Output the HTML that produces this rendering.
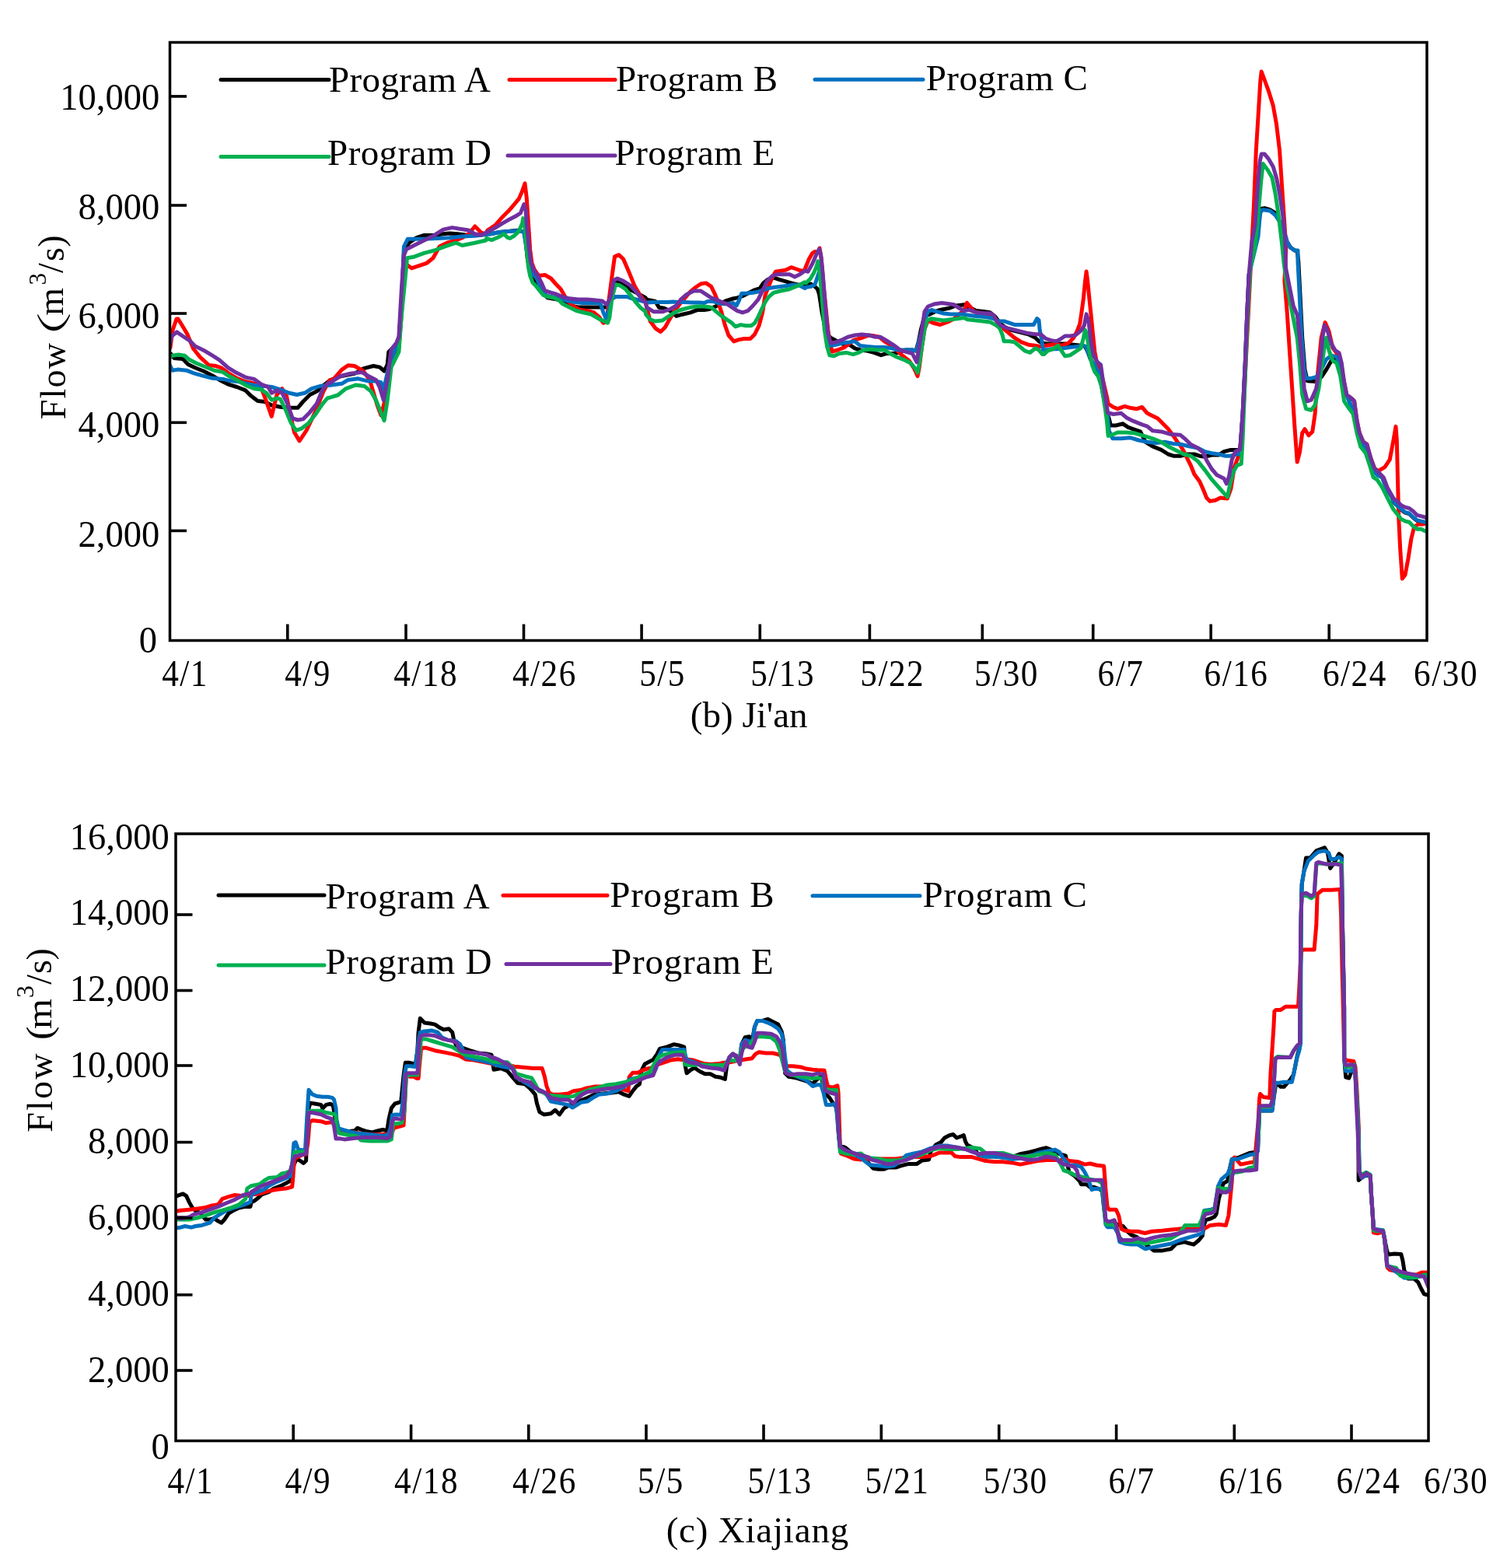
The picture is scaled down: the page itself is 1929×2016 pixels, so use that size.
<!DOCTYPE html><html><head><meta charset="utf-8"><style>html,body{margin:0;padding:0;background:#fff}svg{display:block}</style></head><body>
<svg width="1929" height="2016" viewBox="0 0 1929 2016" font-family="'Liberation Serif','Times New Roman',serif" fill="#000">
<rect width="1929" height="2016" fill="#fff"/>
<clipPath id="c1"><rect x="218.5" y="54.5" width="1616.5" height="769.0"/></clipPath>
<g clip-path="url(#c1)" fill="none" stroke-width="5" stroke-linejoin="round" stroke-linecap="round">
<polyline stroke="#000000" points="217.2,462.8 219.5,454.9 224.0,460.5 235.1,461.6 241.9,468.4 250.8,472.8 262.0,477.3 273.2,482.9 282.2,488.5 293.4,494.1 304.6,497.5 315.7,501.9 322.5,508.7 331.4,515.4 340.4,516.5 349.3,521.0 360.5,523.2 371.7,524.3 382.9,524.3 389.6,516.5 398.6,507.5 407.5,503.1 416.5,495.2 425.0,488.5 439.5,483.5 455.8,480.3 467.2,473.8 480.3,470.5 488.4,472.1 494.1,477.0 498.2,468.9 499.8,452.5 506.4,446.0 512.9,439.5 516.2,390.5 519.4,325.3 526.0,312.2 535.7,305.7 545.5,302.4 558.6,302.4 570.0,300.8 578.2,300.0 588.0,300.8 602.6,302.4 625.0,300.8 631.2,300.8 642.4,298.5 653.7,297.4 664.9,296.3 671.6,297.4 673.8,298.5 676.1,309.7 678.3,332.2 681.7,349.0 687.3,360.2 691.8,365.8 698.5,377.1 704.1,382.7 715.4,384.9 723.2,387.1 732.2,392.8 743.4,395.0 754.6,395.0 765.8,395.0 777.1,395.0 781.5,395.0 786.0,379.3 790.5,361.3 795.0,362.5 801.7,365.8 810.7,372.6 819.7,377.1 830.0,382.7 831.7,385.1 842.9,387.4 847.4,395.2 854.1,396.3 861.9,399.7 869.8,406.4 877.6,404.2 887.7,401.9 896.6,398.6 905.6,398.6 912.3,397.5 920.1,394.1 928.0,389.6 934.7,386.3 942.5,384.0 948.1,382.9 954.9,380.7 961.6,377.3 970.5,372.8 977.2,370.6 981.7,363.9 987.3,359.4 995.1,357.2 1001.9,359.4 1009.7,361.6 1017.5,363.9 1026.5,366.1 1035.0,367.2 1036.7,366.0 1042.3,364.9 1047.9,368.3 1051.3,371.6 1053.5,378.4 1056.9,400.7 1060.2,417.5 1063.6,428.7 1068.1,434.3 1074.8,437.7 1083.7,442.2 1092.7,443.3 1099.4,447.8 1106.1,450.0 1115.1,451.1 1124.0,453.4 1133.0,456.7 1139.7,454.5 1148.7,454.5 1155.4,453.4 1164.3,450.0 1173.3,450.0 1177.8,451.1 1181.1,439.9 1184.5,423.1 1189.0,406.3 1195.7,404.1 1202.4,400.7 1209.1,398.5 1220.3,396.3 1229.3,392.9 1240.0,391.8 1241.7,395.0 1248.5,396.1 1255.2,399.5 1264.2,400.6 1273.1,401.7 1279.9,407.3 1286.6,416.3 1295.6,423.0 1304.6,425.3 1313.5,427.5 1322.5,429.7 1331.5,434.2 1336.0,438.7 1340.4,441.0 1347.2,442.1 1358.4,442.1 1369.6,442.1 1380.8,443.2 1389.8,444.3 1395.4,445.4 1398.8,452.2 1402.1,461.2 1406.6,469.0 1410.0,474.6 1414.5,485.8 1419.0,508.3 1423.5,530.7 1426.2,538.1 1428.4,547.0 1435.1,547.0 1444.1,544.8 1450.8,549.3 1459.8,552.6 1466.5,554.9 1473.2,568.3 1482.2,573.9 1493.4,578.4 1502.3,584.0 1509.0,586.2 1518.0,586.2 1526.9,584.0 1535.9,584.0 1542.6,586.2 1549.3,587.3 1558.3,585.1 1567.2,585.1 1574.0,580.6 1582.9,578.4 1589.6,578.4 1594.1,578.4 1594.8,577.8 1598.1,532.1 1601.3,466.8 1603.8,401.6 1606.2,352.6 1616.7,304.1 1620.1,276.6 1622.2,268.3 1626.3,267.6 1633.2,269.7 1640.1,273.8 1645.6,284.8 1651.1,297.2 1655.2,311.0 1659.4,317.9 1664.9,322.0 1668.3,322.7 1669.8,336.3 1672.3,385.3 1674.7,434.2 1678.0,475.0 1681.3,489.7 1691.1,490.5 1699.2,484.8 1705.7,475.0 1712.3,463.6 1718.8,460.3 1725.3,475.0 1728.6,499.5 1735.1,515.8 1740.0,528.8 1744.9,548.4 1749.8,564.7 1754.7,574.5 1759.6,584.3 1764.5,600.6 1771.0,610.4 1777.5,613.7 1784.1,630.0 1790.6,639.8 1791.8,645.2 1796.9,650.3 1802.0,655.4 1807.1,659.2 1812.2,660.5 1817.3,665.6 1822.4,669.4 1827.5,670.7 1832.6,672.0 1839.0,674.5"/>
<polyline stroke="#FF0000" points="219.0,447.0 221.9,425.0 227.0,410.0 229.0,410.1 234.0,418.0 240.7,429.2 248.6,448.2 257.5,459.4 268.7,469.5 277.7,470.6 284.4,472.8 293.4,479.6 304.6,486.3 315.7,490.7 326.9,493.0 335.9,498.6 341.5,513.1 349.3,535.5 356.0,507.5 362.8,499.7 368.4,508.7 374.0,535.5 378.4,555.7 385.1,566.9 394.1,553.4 405.3,529.9 416.5,501.9 424.3,488.5 428.1,488.4 439.5,475.4 447.6,469.7 455.8,470.5 467.2,477.0 475.4,488.4 480.3,504.8 485.2,521.1 490.1,534.1 495.0,514.5 499.8,472.1 506.4,455.8 512.9,447.6 516.2,406.9 519.4,357.9 522.7,340.0 529.2,344.8 539.0,341.6 548.8,338.3 557.0,331.8 565.1,317.1 574.9,312.2 586.3,309.0 594.5,305.7 602.6,300.8 610.8,291.0 619.0,299.2 625.0,300.8 626.7,296.3 636.8,289.6 644.7,280.6 653.7,271.6 660.4,263.8 667.1,255.9 671.6,245.8 675.0,235.7 677.2,253.7 679.5,287.3 681.7,321.0 683.9,337.8 687.3,346.8 692.9,354.6 700.8,353.5 708.6,358.0 715.4,365.8 721.0,371.4 725.4,379.3 729.9,387.1 737.8,393.9 745.6,398.4 754.6,399.5 763.6,401.7 770.3,407.3 775.9,415.2 780.4,412.9 782.7,388.3 787.1,354.6 790.5,329.9 796.1,327.7 801.7,333.3 808.5,349.0 816.3,368.1 823.0,379.3 830.0,388.3 836.2,413.1 842.9,422.1 849.6,426.6 855.2,421.0 860.8,410.9 867.5,399.7 874.3,390.7 881.0,382.9 887.7,375.1 894.4,369.5 901.1,365.0 907.8,363.9 914.6,368.4 919.0,377.3 923.5,388.5 928.0,401.9 932.5,418.7 936.9,431.0 943.7,438.9 950.4,436.6 957.1,435.5 964.9,435.5 970.5,429.9 976.1,418.7 980.6,401.9 984.0,379.6 988.4,368.4 992.9,357.2 997.4,349.3 1004.1,348.2 1010.8,347.1 1017.5,343.7 1024.3,346.0 1029.9,348.2 1035.0,347.1 1035.6,344.8 1040.1,333.6 1044.6,325.7 1047.9,323.5 1052.4,324.6 1054.1,319.0 1056.3,333.6 1059.1,367.2 1062.5,400.7 1064.7,423.1 1066.9,439.9 1070.3,452.2 1077.0,450.0 1086.0,446.6 1097.2,437.7 1108.4,434.3 1117.3,431.0 1125.1,432.1 1130.7,433.2 1137.5,438.8 1146.4,444.4 1153.1,450.0 1159.9,456.7 1168.8,463.4 1175.5,473.5 1180.0,483.6 1182.2,472.4 1185.6,445.5 1189.0,423.1 1193.4,411.9 1200.1,415.3 1209.1,417.5 1218.1,414.2 1227.0,409.7 1234.9,403.0 1240.0,398.5 1243.4,389.4 1247.3,393.8 1252.9,400.6 1261.9,402.8 1270.9,405.1 1277.6,407.3 1284.4,416.3 1291.1,423.0 1297.8,428.6 1304.6,434.2 1313.5,439.8 1322.5,443.2 1330.4,444.3 1338.2,445.4 1344.9,444.3 1351.7,443.2 1358.4,442.1 1365.1,444.3 1374.1,441.0 1380.8,434.2 1385.3,425.3 1388.7,416.3 1390.9,401.7 1393.2,384.9 1395.4,362.4 1397.1,349.0 1398.8,362.4 1401.0,384.9 1403.3,407.3 1405.5,429.7 1407.8,452.2 1410.0,463.4 1414.5,472.4 1419.0,491.4 1423.5,510.5 1425.1,519.0 1431.8,523.5 1437.4,525.7 1446.3,522.4 1454.2,524.6 1462.0,525.7 1468.7,523.5 1475.4,531.3 1482.2,534.7 1488.9,538.1 1495.6,544.8 1502.3,551.5 1509.0,560.4 1513.5,567.2 1518.0,572.8 1522.5,580.6 1526.9,589.6 1531.4,598.5 1535.9,609.7 1542.6,618.7 1547.1,628.7 1551.6,639.9 1556.0,644.4 1562.8,643.3 1569.5,639.9 1578.4,641.0 1582.9,628.7 1587.4,600.7 1591.9,588.4 1593.2,584.3 1596.4,564.7 1599.7,515.8 1602.9,450.5 1612.5,262.8 1615.3,193.9 1618.7,138.9 1620.8,104.4 1622.2,92.0 1626.3,103.0 1631.8,118.2 1637.3,136.1 1641.5,159.5 1645.6,193.9 1648.3,235.2 1651.1,276.6 1653.9,317.9 1651.9,360.8 1655.2,401.6 1658.4,450.5 1661.7,499.5 1664.9,548.4 1668.2,594.1 1671.5,581.1 1674.7,556.6 1678.0,551.7 1682.9,559.8 1687.8,554.9 1691.1,532.1 1694.3,483.2 1699.2,434.2 1704.1,414.6 1709.0,426.1 1713.9,447.3 1718.8,453.8 1723.7,466.8 1728.6,491.3 1731.8,507.6 1738.4,512.5 1741.6,515.8 1744.9,540.3 1748.2,556.6 1753.1,568.0 1757.9,571.3 1762.8,589.2 1767.7,602.3 1772.6,605.5 1780.8,600.6 1787.3,590.8 1792.2,564.7 1795.0,548.4 1796.3,565.5 1797.5,616.5 1798.8,667.5 1800.7,705.8 1803.3,744.0 1807.1,738.9 1810.9,718.5 1814.8,693.0 1818.6,677.7 1823.7,673.9 1830.1,673.9 1835.2,672.6 1839.0,672.6"/>
<polyline stroke="#0070C0" points="217.2,467.2 221.7,476.2 228.4,475.1 239.6,476.2 248.6,479.6 259.8,482.9 273.2,486.3 286.6,487.4 295.6,489.6 306.8,490.7 315.7,493.0 326.9,495.2 338.1,496.3 349.3,497.5 360.5,500.8 371.7,505.3 381.8,507.5 391.9,505.3 400.8,499.7 412.0,496.3 425.0,495.2 426.4,495.0 439.5,493.3 447.6,488.4 460.7,486.8 473.7,490.1 483.5,490.1 490.1,491.7 493.3,501.5 499.8,472.1 506.4,454.2 512.9,439.5 516.2,390.5 519.4,317.1 524.3,307.3 532.5,307.3 545.5,307.3 561.9,306.5 578.2,305.7 594.5,304.1 610.8,303.2 625.0,301.6 631.2,300.8 642.4,298.5 653.7,297.4 664.9,296.8 671.6,297.4 673.8,298.5 677.2,321.0 680.6,343.4 685.1,352.4 689.6,356.9 694.0,365.8 698.5,377.1 704.1,380.4 715.4,382.7 726.6,386.0 737.8,388.3 749.0,389.4 760.2,389.4 769.2,389.4 772.6,391.6 775.9,401.7 779.3,409.6 782.7,399.5 786.0,384.9 791.6,381.5 799.5,381.5 806.2,381.5 812.9,383.8 821.9,386.0 830.0,388.3 831.7,389.1 840.7,388.5 849.6,388.5 858.6,388.5 865.3,387.9 872.0,388.5 881.0,388.5 889.9,389.1 898.9,389.1 905.6,389.6 910.1,387.4 916.8,387.4 923.5,389.6 930.2,390.7 936.9,390.7 942.5,389.6 947.0,393.0 950.4,386.3 953.7,377.3 959.3,377.3 968.3,376.2 975.0,375.1 981.7,372.8 988.4,370.6 995.1,369.5 1004.1,368.4 1013.1,367.2 1022.0,366.1 1028.7,367.2 1035.0,370.6 1036.7,369.4 1043.4,368.3 1047.9,366.0 1051.3,356.0 1053.5,349.3 1055.7,356.0 1058.0,378.4 1060.2,406.3 1063.6,428.7 1066.9,444.4 1074.8,443.3 1083.7,441.0 1092.7,439.9 1099.4,438.8 1106.1,444.4 1115.1,445.5 1126.3,446.6 1137.5,446.6 1146.4,447.8 1155.4,450.0 1164.3,450.0 1173.3,450.0 1177.8,451.1 1180.0,445.5 1184.5,428.7 1189.0,411.9 1193.4,400.7 1197.9,398.5 1204.6,400.7 1213.6,403.0 1222.5,404.1 1231.5,404.1 1240.0,404.1 1244.0,405.1 1252.9,406.2 1264.2,407.3 1273.1,408.4 1279.9,410.7 1284.4,412.9 1291.1,412.9 1297.8,415.2 1304.6,417.4 1313.5,417.4 1322.5,417.4 1329.2,417.4 1333.7,409.6 1336.0,411.8 1337.1,424.1 1339.3,435.4 1341.6,449.9 1343.8,449.9 1351.7,448.8 1358.4,448.8 1367.4,447.7 1376.3,446.6 1385.3,445.4 1392.1,444.3 1396.5,445.4 1398.8,452.2 1403.3,463.4 1407.8,469.0 1412.2,478.0 1416.7,497.1 1421.2,519.5 1424.6,536.3 1426.2,553.7 1430.7,563.8 1441.9,563.8 1453.1,562.7 1464.3,566.0 1475.4,568.3 1486.6,569.4 1497.8,568.3 1509.0,570.5 1520.2,571.6 1529.2,573.9 1540.4,576.1 1549.3,580.6 1558.3,582.8 1567.2,584.0 1576.2,586.2 1582.9,586.2 1589.6,584.0 1594.1,584.0 1594.8,581.1 1598.1,532.1 1601.3,466.8 1603.8,401.6 1606.2,352.6 1618.0,304.1 1620.8,271.0 1624.9,269.7 1633.2,271.0 1640.1,276.6 1645.6,284.8 1651.1,297.2 1655.2,311.0 1659.4,317.9 1664.9,322.0 1669.0,322.0 1669.0,336.3 1671.5,385.3 1673.9,434.2 1677.2,475.0 1679.6,486.4 1686.2,486.4 1692.7,484.8 1699.2,475.0 1705.7,461.9 1712.3,457.1 1718.8,458.7 1725.3,475.0 1728.6,499.5 1735.1,515.8 1740.0,528.8 1744.9,548.4 1749.8,564.7 1754.7,574.5 1759.6,584.3 1764.5,600.6 1771.0,610.4 1777.5,613.7 1784.1,630.0 1790.6,639.8 1791.8,644.6 1796.9,649.7 1802.0,654.8 1807.1,658.6 1812.2,659.9 1817.3,665.0 1822.4,668.8 1827.5,670.1 1832.6,671.3 1839.0,673.9"/>
<polyline stroke="#00B050" points="217.2,459.4 221.7,457.2 229.6,456.0 237.4,457.2 244.1,462.8 253.1,467.2 264.3,471.7 275.4,476.2 286.6,478.4 293.4,482.9 304.6,488.5 315.7,495.2 326.9,499.7 335.9,500.8 342.6,505.3 349.3,514.3 356.0,512.0 360.5,513.1 367.2,526.6 374.0,543.4 380.7,553.4 387.4,551.2 396.3,544.5 405.3,533.3 414.3,519.9 421.0,512.0 425.0,510.9 434.6,508.0 444.4,499.9 457.4,495.0 468.8,496.6 477.0,503.1 483.5,514.5 490.1,530.9 494.1,540.7 498.2,514.5 503.1,472.1 509.6,459.1 512.9,452.5 516.2,406.9 521.1,357.9 523.5,331.8 532.5,330.2 545.5,325.3 558.6,322.0 571.6,317.1 586.3,312.2 594.5,315.5 610.8,312.2 625.0,309.0 625.6,306.4 632.3,308.6 640.2,305.3 648.0,300.8 652.5,305.3 655.9,306.4 661.5,303.0 667.1,297.4 671.6,287.3 672.7,280.6 675.0,292.9 677.2,321.0 679.5,343.4 681.7,354.6 685.1,363.6 689.6,368.1 694.0,373.7 698.5,379.3 704.1,381.5 712.0,382.7 718.7,386.0 723.2,390.5 732.2,395.0 741.2,399.5 750.1,401.7 760.2,404.0 765.8,407.3 771.4,410.7 777.1,412.9 781.5,415.2 783.8,408.5 787.1,382.7 791.6,365.8 797.2,367.0 804.0,371.4 810.7,379.3 817.4,388.3 824.2,396.1 830.0,400.6 830.6,404.2 836.2,410.9 842.9,413.1 851.9,412.0 858.6,407.5 865.3,403.1 872.0,399.7 878.7,397.5 887.7,395.2 896.6,394.1 905.6,394.1 914.6,395.2 921.3,400.8 928.0,406.4 934.7,410.9 941.4,415.4 945.9,419.9 952.6,417.6 959.3,418.7 966.0,418.7 970.5,415.4 975.0,407.5 979.5,397.5 984.0,388.5 988.4,381.8 995.1,376.2 1004.1,374.0 1015.3,371.7 1026.5,367.2 1035.0,362.8 1036.7,363.8 1042.3,358.2 1046.8,350.4 1050.1,342.5 1051.8,335.8 1053.5,344.8 1055.7,367.2 1058.0,395.1 1060.2,423.1 1063.6,445.5 1066.9,456.7 1072.5,457.8 1079.3,454.5 1088.2,453.4 1097.2,455.6 1103.9,453.4 1110.6,450.0 1119.6,448.9 1128.5,450.0 1137.5,450.0 1146.4,455.6 1153.1,459.0 1162.1,462.3 1171.0,466.8 1177.8,474.6 1180.0,479.1 1182.2,467.9 1185.6,445.5 1189.0,423.1 1192.3,411.9 1197.9,409.7 1204.6,410.8 1213.6,411.9 1222.5,410.8 1231.5,409.7 1240.0,408.6 1244.0,410.7 1252.9,411.8 1264.2,412.9 1273.1,414.0 1279.9,417.4 1285.5,421.9 1288.8,429.7 1291.1,438.7 1297.8,438.7 1304.6,439.8 1311.3,445.4 1318.0,451.1 1324.7,453.3 1331.5,447.7 1336.0,449.9 1340.4,455.5 1342.7,455.5 1347.2,451.1 1353.9,448.8 1360.6,444.3 1365.1,451.1 1369.6,457.8 1376.3,456.7 1383.1,452.2 1389.8,447.7 1393.2,435.4 1395.4,424.1 1397.7,429.7 1401.0,452.2 1404.4,469.0 1407.8,478.0 1412.2,483.6 1416.7,497.1 1421.2,525.1 1423.5,541.9 1425.1,560.4 1429.6,559.3 1437.4,556.0 1448.6,556.0 1459.8,557.1 1471.0,560.4 1482.2,563.8 1493.4,568.3 1502.3,573.9 1511.3,578.4 1522.5,584.0 1531.4,586.2 1540.4,592.9 1549.3,604.1 1558.3,616.4 1567.2,626.5 1576.2,636.6 1578.4,638.8 1581.8,623.1 1586.3,606.3 1590.7,598.5 1596.3,596.3 1598.1,564.7 1601.3,483.2 1604.6,401.6 1607.8,344.5 1613.9,317.9 1618.0,276.6 1621.5,235.2 1624.2,210.5 1630.4,218.7 1636.0,228.4 1640.1,249.0 1644.2,276.6 1648.3,311.0 1651.1,338.5 1655.2,368.9 1660.1,393.4 1664.9,417.9 1668.2,434.2 1671.5,466.8 1674.7,507.6 1679.6,525.6 1686.2,527.2 1691.1,520.7 1695.9,499.5 1699.2,475.0 1702.5,450.5 1705.7,434.2 1709.0,450.5 1713.9,463.6 1718.8,466.8 1723.7,483.2 1728.6,515.8 1735.1,525.6 1740.0,532.1 1744.9,556.6 1749.8,574.5 1756.3,582.7 1761.2,597.4 1766.1,613.7 1771.0,616.9 1777.5,626.7 1784.1,639.8 1791.8,654.8 1796.9,661.1 1802.0,667.5 1807.1,670.1 1812.2,671.3 1817.3,676.4 1822.4,680.3 1827.5,680.3 1832.6,682.8 1839.0,685.4"/>
<polyline stroke="#7030A0" points="217.2,447.1 220.6,432.5 227.3,426.9 237.4,433.7 244.1,438.1 250.8,444.9 262.0,450.4 273.2,457.2 282.2,462.8 293.4,472.8 304.6,479.6 315.7,485.1 326.9,487.4 335.9,494.1 344.9,497.5 349.3,505.3 356.0,501.9 362.8,505.3 369.5,518.7 376.2,537.8 382.9,540.0 389.6,538.9 398.6,529.9 407.5,518.7 414.3,501.9 419.9,494.1 425.0,491.9 437.8,483.5 450.9,480.3 465.6,478.6 473.7,483.5 483.5,488.4 488.4,498.2 493.3,514.5 498.2,488.4 503.1,449.3 509.6,441.1 512.9,433.0 516.2,374.2 519.4,328.5 522.7,320.4 532.5,315.5 545.5,309.0 558.6,302.4 570.0,295.1 581.4,292.6 591.2,294.3 602.6,295.9 610.8,300.8 619.0,302.4 625.0,299.2 626.7,298.5 636.8,292.9 645.8,287.3 653.7,282.8 662.6,278.3 669.4,273.8 673.8,262.6 676.1,270.5 678.3,298.5 680.6,321.0 682.8,337.8 687.3,349.0 691.8,354.6 696.3,363.6 700.8,373.7 707.5,375.9 715.4,378.2 723.2,381.5 732.2,383.8 743.4,384.9 754.6,384.9 765.8,386.0 774.8,387.1 780.4,391.6 784.9,382.7 789.4,360.2 793.9,358.0 801.7,361.3 810.7,367.0 819.7,377.1 826.4,386.0 830.0,388.3 831.7,395.2 840.7,400.8 851.9,400.8 861.9,397.5 869.8,393.0 875.4,385.1 883.2,378.4 892.2,374.0 901.1,374.0 907.8,378.4 914.6,382.9 921.3,385.1 928.0,388.5 934.7,390.7 941.4,395.2 948.1,399.7 954.9,401.9 961.6,399.7 968.3,393.0 975.0,385.1 981.7,371.7 986.2,361.6 992.9,354.9 999.6,352.7 1008.6,352.7 1015.3,352.7 1022.0,356.0 1028.7,352.7 1035.0,348.2 1039.0,349.3 1044.6,339.2 1049.0,329.1 1053.5,320.1 1055.7,328.0 1058.0,350.4 1060.2,378.4 1062.5,406.3 1064.7,428.7 1068.1,441.0 1074.8,439.9 1083.7,436.6 1090.4,433.2 1099.4,431.0 1108.4,429.9 1117.3,431.0 1125.1,433.2 1131.9,433.2 1139.7,437.7 1148.7,443.3 1157.6,450.0 1164.3,452.2 1173.3,454.5 1178.9,465.7 1182.2,445.5 1185.6,423.1 1189.0,400.7 1193.4,394.0 1202.4,390.7 1211.3,389.6 1220.3,390.7 1227.0,391.8 1233.7,396.3 1240.0,399.6 1246.2,398.3 1255.2,401.7 1264.2,402.8 1273.1,402.8 1277.6,405.1 1282.1,412.9 1286.6,418.5 1295.6,421.9 1304.6,424.1 1313.5,426.4 1322.5,428.6 1331.5,429.7 1338.2,429.7 1344.9,435.4 1351.7,437.6 1358.4,438.7 1362.9,436.5 1369.6,432.0 1376.3,432.0 1383.1,430.9 1389.8,425.3 1394.3,418.5 1397.1,403.9 1399.9,412.9 1403.3,441.0 1406.6,457.8 1411.1,465.6 1415.6,469.0 1417.9,485.8 1421.2,508.3 1424.6,530.7 1431.8,532.5 1441.9,531.3 1448.6,536.9 1457.5,541.4 1468.7,545.9 1475.4,548.1 1482.2,553.7 1493.4,554.9 1504.6,558.2 1518.0,559.3 1524.7,564.9 1531.4,571.6 1540.4,576.1 1547.1,581.7 1551.6,591.8 1558.3,603.0 1565.0,610.8 1574.0,615.3 1577.3,622.0 1580.7,611.9 1584.0,591.8 1588.5,580.6 1594.1,578.4 1594.8,577.8 1598.1,532.1 1601.3,466.8 1603.8,401.6 1606.2,352.6 1609.8,311.0 1613.9,290.3 1616.7,249.0 1620.1,207.7 1622.2,198.1 1626.3,198.1 1631.8,204.9 1637.3,214.6 1641.5,228.4 1645.6,249.0 1649.7,276.6 1652.5,304.1 1653.5,344.5 1658.4,368.9 1663.3,393.4 1668.2,404.8 1671.5,434.2 1674.7,466.8 1677.2,499.5 1681.3,515.8 1686.2,514.2 1692.7,499.5 1697.6,466.8 1700.8,434.2 1703.3,417.9 1707.4,426.1 1712.3,442.4 1717.2,450.5 1722.1,453.8 1725.3,466.8 1728.6,491.3 1731.8,507.6 1738.4,512.5 1741.6,515.8 1744.9,540.3 1748.2,556.6 1753.1,568.0 1757.9,571.3 1762.8,589.2 1767.7,602.3 1774.3,608.8 1779.2,613.7 1784.1,626.7 1790.6,638.2 1791.8,640.7 1796.9,644.6 1802.0,649.7 1807.1,652.2 1812.2,653.5 1817.3,657.3 1822.4,662.4 1827.5,663.7 1832.6,665.0 1839.0,668.8"/>
</g>
<rect x="218.5" y="54.5" width="1616.5" height="769.0" fill="none" stroke="#000" stroke-width="3.5"/>
<line x1="218.5" y1="123.9" x2="240.0" y2="123.9" stroke="#000" stroke-width="3.6"/>
<text transform="translate(205.2,141.3) scale(0.94,1)" font-size="49.5" text-anchor="end">10,000</text>
<line x1="218.5" y1="264" x2="240.0" y2="264" stroke="#000" stroke-width="3.6"/>
<text transform="translate(205.2,282.0) scale(0.94,1)" font-size="49.5" text-anchor="end">8,000</text>
<line x1="218.5" y1="403" x2="240.0" y2="403" stroke="#000" stroke-width="3.6"/>
<text transform="translate(205.2,422.0) scale(0.94,1)" font-size="49.5" text-anchor="end">6,000</text>
<line x1="218.5" y1="543.3" x2="240.0" y2="543.3" stroke="#000" stroke-width="3.6"/>
<text transform="translate(205.2,561.5) scale(0.94,1)" font-size="49.5" text-anchor="end">4,000</text>
<line x1="218.5" y1="682.4" x2="240.0" y2="682.4" stroke="#000" stroke-width="3.6"/>
<text transform="translate(205.2,702.7) scale(0.94,1)" font-size="49.5" text-anchor="end">2,000</text>
<text transform="translate(202.0,838.5) scale(0.94,1)" font-size="49.5" text-anchor="end">0</text>
<text transform="translate(208.2,881.5) scale(0.9,1)" font-size="48" letter-spacing="1.7">4/1</text>
<line x1="369.8" y1="823.5" x2="369.8" y2="802.5" stroke="#000" stroke-width="3.6"/>
<text transform="translate(366.2,881.5) scale(0.9,1)" font-size="48" letter-spacing="1.7">4/9</text>
<line x1="522" y1="823.5" x2="522" y2="802.5" stroke="#000" stroke-width="3.6"/>
<text transform="translate(506.2,881.5) scale(0.9,1)" font-size="48" letter-spacing="1.7">4/18</text>
<line x1="673.5" y1="823.5" x2="673.5" y2="802.5" stroke="#000" stroke-width="3.6"/>
<text transform="translate(658.9,881.5) scale(0.9,1)" font-size="48" letter-spacing="1.7">4/26</text>
<line x1="825.1" y1="823.5" x2="825.1" y2="802.5" stroke="#000" stroke-width="3.6"/>
<text transform="translate(822.2,881.5) scale(0.9,1)" font-size="48" letter-spacing="1.7">5/5</text>
<line x1="977.3" y1="823.5" x2="977.3" y2="802.5" stroke="#000" stroke-width="3.6"/>
<text transform="translate(965.2,881.5) scale(0.9,1)" font-size="48" letter-spacing="1.7">5/13</text>
<line x1="1118.4" y1="823.5" x2="1118.4" y2="802.5" stroke="#000" stroke-width="3.6"/>
<text transform="translate(1106.3,881.5) scale(0.9,1)" font-size="48" letter-spacing="1.7">5/22</text>
<line x1="1263.3" y1="823.5" x2="1263.3" y2="802.5" stroke="#000" stroke-width="3.6"/>
<text transform="translate(1253.0,881.5) scale(0.9,1)" font-size="48" letter-spacing="1.7">5/30</text>
<line x1="1405.7" y1="823.5" x2="1405.7" y2="802.5" stroke="#000" stroke-width="3.6"/>
<text transform="translate(1411.6,881.5) scale(0.9,1)" font-size="48" letter-spacing="1.7">6/7</text>
<line x1="1557.2" y1="823.5" x2="1557.2" y2="802.5" stroke="#000" stroke-width="3.6"/>
<text transform="translate(1548.5,881.5) scale(0.9,1)" font-size="48" letter-spacing="1.7">6/16</text>
<line x1="1709.2" y1="823.5" x2="1709.2" y2="802.5" stroke="#000" stroke-width="3.6"/>
<text transform="translate(1700.9,881.5) scale(0.9,1)" font-size="48" letter-spacing="1.7">6/24</text>
<text transform="translate(1818.1,881.5) scale(0.9,1)" font-size="48" letter-spacing="1.7">6/30</text>
<g transform="translate(83.8,540) rotate(-90)">
<text transform="translate(0.67,0)" font-size="46" letter-spacing="1.2">Flow</text>
<text transform="translate(66.4,3.4) scale(1.65,1)" font-size="45" font-family="'Noto Serif CJK SC',serif">（</text>
<text transform="translate(134.2,-3)" font-size="46">m</text>
<text transform="translate(173.5,-25.2)" font-size="31">3</text>
<text transform="translate(189,-2.4)" font-size="46">/</text>
<text transform="translate(203.9,-2.2)" font-size="46">s</text>
<text transform="translate(222.3,-2.5)" font-size="46">)</text>
</g>
<text x="887.8345703125" y="935" font-size="47">(b) Ji'an</text>
<line x1="284" y1="102.4" x2="423" y2="102.4" stroke="#000000" stroke-width="5" stroke-linecap="round"/>
<text x="422.9" y="117.7" font-size="47" letter-spacing="0.4">Program A</text>
<line x1="655" y1="102.5" x2="791" y2="102.5" stroke="#FF0000" stroke-width="5" stroke-linecap="round"/>
<text x="792.0" y="117.3" font-size="47" letter-spacing="0.4">Program B</text>
<line x1="1048" y1="102.3" x2="1187" y2="102.3" stroke="#0070C0" stroke-width="5" stroke-linecap="round"/>
<text x="1190.8" y="115.9" font-size="47" letter-spacing="0.4">Program C</text>
<line x1="284" y1="201.4" x2="423" y2="201.4" stroke="#00B050" stroke-width="5" stroke-linecap="round"/>
<text x="421.1" y="212.3" font-size="47" letter-spacing="0.4">Program D</text>
<line x1="653" y1="199.9" x2="791" y2="199.9" stroke="#7030A0" stroke-width="5" stroke-linecap="round"/>
<text x="790.6" y="212.2" font-size="47" letter-spacing="0.4">Program E</text>
<clipPath id="c2"><rect x="226" y="1072" width="1611" height="780.5"/></clipPath>
<g clip-path="url(#c2)" fill="none" stroke-width="5" stroke-linejoin="round" stroke-linecap="round">
<polyline stroke="#000000" points="223.6,1539.7 228.9,1537.1 235.3,1534.9 239.6,1537.6 243.3,1545.6 247.1,1552.5 251.9,1557.3 257.2,1559.4 264.6,1568.0 270.0,1568.0 275.3,1566.4 280.6,1570.1 284.9,1572.2 288.6,1568.0 294.0,1560.0 299.3,1556.8 307.3,1553.0 315.3,1551.4 322.0,1551.4 323.0,1546.0 327.4,1543.8 333.1,1539.3 336.4,1535.9 345.4,1532.6 352.1,1528.1 361.1,1524.7 367.8,1521.3 373.4,1518.0 375.7,1509.0 377.9,1497.8 381.3,1489.9 385.8,1492.2 390.3,1495.5 393.6,1492.2 394.8,1458.5 397.0,1424.9 399.2,1418.1 406.0,1419.3 412.7,1420.4 414.9,1424.9 419.4,1420.4 425.0,1419.3 428.4,1421.5 430.7,1436.1 432.0,1447.3 432.8,1450.3 438.4,1453.7 447.4,1454.8 456.3,1453.7 459.7,1450.3 465.3,1452.5 472.0,1454.8 478.7,1455.9 486.6,1453.7 492.2,1452.5 497.8,1453.7 500.0,1439.1 503.4,1424.6 507.8,1419.0 515.7,1416.7 516.8,1405.5 519.0,1383.1 521.3,1366.3 525.7,1366.3 531.3,1367.5 534.7,1366.3 536.9,1349.6 538.1,1327.2 540.3,1309.3 545.9,1314.9 553.7,1316.0 559.3,1317.1 566.0,1321.6 570.5,1323.8 577.2,1322.7 581.7,1327.2 584.0,1338.4 588.4,1347.3 595.1,1347.3 604.1,1350.7 615.3,1354.0 626.5,1355.1 632.1,1356.3 635.0,1375.3 644.6,1373.6 652.4,1376.9 659.1,1384.8 665.8,1392.6 674.8,1393.7 681.5,1399.3 688.2,1407.2 690.4,1418.4 693.8,1429.6 699.4,1432.9 708.4,1431.8 714.0,1427.3 719.6,1432.9 725.1,1425.1 730.7,1421.7 737.5,1419.5 746.4,1415.0 755.4,1411.6 764.3,1407.2 775.5,1406.0 786.7,1404.9 795.7,1403.8 802.4,1407.2 809.1,1409.4 813.6,1402.7 818.1,1397.1 822.5,1393.7 824.8,1376.9 829.3,1368.0 840.0,1362.4 845.1,1355.1 848.4,1348.4 857.4,1346.1 866.3,1342.8 873.1,1343.9 879.8,1346.1 880.9,1368.5 883.1,1379.7 888.7,1375.2 893.2,1373.0 899.9,1377.5 906.6,1380.8 913.4,1380.8 920.1,1384.2 926.8,1385.3 932.4,1387.5 934.6,1370.7 938.0,1359.6 942.5,1355.1 946.9,1359.6 951.4,1365.1 953.7,1342.8 958.1,1333.8 963.7,1332.7 967.1,1339.4 970.4,1320.4 973.8,1312.5 980.5,1312.5 987.2,1310.3 994.0,1313.7 1000.7,1317.0 1005.1,1326.0 1007.4,1337.2 1008.5,1359.6 1009.6,1379.7 1014.1,1384.2 1025.3,1386.4 1036.5,1389.8 1045.0,1393.1 1055.7,1383.5 1062.4,1407.0 1066.9,1411.5 1072.5,1420.4 1074.7,1420.4 1076.9,1432.8 1078.6,1460.7 1080.3,1473.1 1087.0,1475.3 1093.7,1480.9 1102.7,1486.5 1109.4,1489.9 1116.1,1494.3 1122.8,1502.2 1129.6,1503.3 1136.3,1503.3 1143.0,1501.0 1151.9,1501.0 1158.7,1498.8 1167.6,1496.6 1178.8,1496.6 1185.5,1492.1 1194.5,1491.0 1196.7,1480.9 1203.4,1471.9 1210.1,1468.6 1214.6,1463.0 1221.3,1459.6 1225.8,1458.5 1230.3,1463.0 1237.0,1460.7 1239.3,1459.6 1241.5,1467.5 1243.7,1471.9 1250.0,1475.3 1254.0,1478.1 1258.4,1484.8 1267.4,1487.0 1278.6,1487.0 1289.8,1488.1 1301.0,1488.1 1312.2,1483.7 1323.4,1481.4 1332.3,1479.2 1340.1,1476.9 1345.7,1475.8 1351.3,1478.1 1356.9,1481.4 1365.9,1484.8 1370.4,1485.9 1372.6,1496.0 1374.9,1507.2 1381.6,1511.6 1388.3,1518.4 1390.5,1522.8 1397.2,1522.8 1401.7,1526.2 1406.2,1526.2 1412.9,1528.4 1417.4,1530.7 1419.6,1551.9 1421.9,1568.7 1426.3,1574.3 1433.1,1574.3 1437.5,1574.3 1444.3,1576.6 1449.9,1583.3 1455.0,1587.8 1461.2,1590.0 1472.4,1599.0 1483.6,1607.9 1494.8,1607.9 1506.0,1605.7 1512.7,1599.0 1522.8,1596.7 1535.1,1600.1 1541.8,1594.5 1546.3,1588.9 1548.5,1574.3 1550.7,1568.7 1557.5,1566.5 1561.9,1564.3 1564.2,1560.9 1567.5,1540.7 1573.1,1521.7 1578.7,1518.4 1579.9,1509.4 1584.3,1490.4 1593.3,1488.1 1598.9,1485.9 1606.7,1482.5 1613.4,1481.4 1617.5,1480.0 1619.6,1427.9 1635.9,1427.9 1637.9,1412.6 1641.0,1392.2 1647.1,1397.3 1651.2,1397.3 1659.3,1388.1 1663.4,1382.0 1665.5,1371.8 1668.5,1356.5 1671.6,1346.3 1673.2,1176.0 1674.2,1136.3 1676.9,1120.4 1679.5,1103.1 1684.8,1103.1 1692.8,1093.9 1703.4,1089.9 1707.4,1096.5 1710.7,1116.4 1715.3,1109.8 1722.0,1097.8 1725.4,1100.5 1725.9,1149.5 1726.7,1202.6 1728.6,1295.3 1728.7,1361.6 1730.7,1385.0 1734.8,1386.1 1737.9,1377.9 1740.9,1371.8 1743.0,1382.0 1745.0,1412.6 1747.0,1453.4 1747.1,1517.5 1751.0,1514.4 1757.1,1510.4 1762.2,1512.4 1763.2,1531.8 1765.3,1562.4 1766.3,1579.7 1771.4,1581.7 1778.5,1582.8 1780.6,1593.0 1783.6,1608.2 1785.5,1612.9 1793.1,1611.9 1801.8,1612.4 1803.9,1620.6 1805.9,1633.3 1811.0,1644.1 1818.6,1644.1 1823.7,1648.6 1827.3,1656.3 1831.4,1663.9 1836.5,1665.0 1839.6,1665.0"/>
<polyline stroke="#000000" points="223.6,1565.8 247.1,1565.8"/>
<polyline stroke="#FF0000" points="223.6,1557.8 232.7,1556.2 243.3,1555.2 254.0,1554.1 264.6,1552.5 272.6,1549.9 280.6,1548.8 286.0,1541.3 294.0,1538.7 302.0,1536.5 310.0,1537.6 322.0,1537.6 323.0,1535.9 334.2,1534.8 345.4,1531.4 356.6,1529.2 367.8,1528.1 375.7,1525.8 376.8,1514.6 377.9,1497.8 379.1,1489.9 384.7,1486.6 390.3,1484.3 393.6,1484.3 395.9,1469.7 398.1,1442.8 401.5,1440.6 412.7,1441.7 419.4,1443.9 426.2,1442.8 430.7,1442.8 432.0,1447.3 432.8,1452.5 441.8,1454.8 456.3,1455.9 469.8,1458.1 481.0,1458.7 492.2,1458.7 498.9,1458.1 503.4,1458.1 506.7,1450.3 510.1,1449.2 514.6,1448.1 519.0,1446.9 520.1,1427.9 522.4,1383.1 528.0,1384.3 532.5,1384.3 535.8,1386.5 538.1,1386.5 539.2,1371.9 541.4,1349.6 543.7,1347.3 548.1,1347.3 559.3,1350.7 570.5,1352.9 581.7,1355.1 590.7,1357.4 598.5,1361.9 609.7,1363.0 620.9,1365.2 632.1,1367.5 635.0,1368.6 635.6,1364.6 641.2,1366.9 652.4,1369.1 661.3,1371.3 674.8,1372.5 686.0,1373.6 697.2,1373.6 700.5,1384.8 702.8,1396.0 706.1,1404.9 710.6,1407.2 719.6,1407.2 730.7,1406.0 737.5,1402.7 746.4,1401.6 753.1,1399.3 764.3,1397.1 775.5,1397.1 786.7,1399.3 797.9,1400.4 804.6,1401.6 808.0,1402.7 809.1,1384.8 813.6,1379.2 820.3,1379.2 827.0,1375.8 833.7,1373.6 840.0,1372.5 846.2,1368.5 852.9,1366.3 863.0,1362.9 871.9,1361.8 878.7,1362.9 882.0,1361.8 891.0,1362.9 897.7,1365.1 904.4,1367.4 913.4,1368.5 924.6,1367.4 931.3,1366.3 935.7,1366.3 942.5,1365.1 946.9,1364.0 953.7,1362.9 960.4,1361.8 967.1,1360.7 971.6,1355.1 976.0,1352.8 985.0,1354.0 994.0,1354.0 1002.9,1356.2 1005.1,1359.6 1008.5,1368.5 1010.7,1370.7 1019.7,1370.7 1029.8,1371.9 1036.5,1374.1 1045.0,1375.2 1051.2,1375.7 1060.1,1376.2 1062.4,1388.0 1064.6,1396.9 1071.3,1398.1 1076.9,1395.8 1078.1,1404.8 1079.2,1438.4 1080.3,1471.9 1081.4,1483.1 1090.4,1486.5 1098.2,1489.9 1107.2,1491.0 1118.4,1489.9 1129.6,1489.9 1140.7,1489.9 1151.9,1489.9 1160.9,1488.7 1174.3,1487.6 1185.5,1487.6 1196.7,1486.5 1202.3,1484.3 1207.9,1482.0 1214.6,1482.0 1223.6,1482.0 1228.1,1486.5 1234.8,1487.6 1241.5,1487.6 1250.0,1487.6 1256.2,1489.3 1267.4,1492.6 1278.6,1493.7 1289.8,1493.7 1301.0,1494.9 1312.2,1497.1 1323.4,1494.9 1334.6,1492.6 1345.7,1491.5 1356.9,1491.5 1363.7,1491.5 1370.4,1490.4 1374.9,1492.6 1386.0,1493.7 1395.0,1497.1 1401.7,1496.0 1410.7,1498.2 1419.6,1499.3 1420.7,1512.8 1421.9,1529.6 1424.1,1551.9 1426.3,1555.3 1435.3,1555.3 1438.7,1563.1 1442.0,1579.9 1446.5,1582.2 1455.0,1583.3 1463.4,1583.3 1472.4,1585.5 1481.3,1583.3 1494.8,1582.2 1506.0,1581.0 1517.2,1579.9 1528.4,1578.8 1539.6,1578.8 1548.5,1579.9 1556.3,1575.4 1567.5,1574.3 1576.5,1575.4 1579.9,1563.1 1582.1,1540.7 1584.3,1518.4 1585.4,1490.4 1587.7,1488.1 1595.5,1497.1 1606.7,1494.9 1613.4,1493.7 1618.0,1443.2 1619.6,1412.6 1620.6,1406.5 1624.7,1410.5 1632.8,1411.6 1633.9,1382.0 1635.9,1351.4 1637.9,1320.8 1638.9,1300.4 1641.0,1298.4 1647.1,1298.4 1653.2,1294.3 1669.5,1294.3 1670.9,1268.8 1672.2,1242.3 1673.6,1223.8 1674.9,1221.1 1690.1,1221.1 1692.8,1189.3 1694.1,1149.5 1700.7,1144.2 1712.7,1144.2 1723.3,1143.6 1724.6,1176.0 1725.9,1242.3 1727.3,1295.3 1728.7,1361.6 1732.8,1363.6 1740.9,1364.6 1743.0,1371.8 1745.0,1402.4 1747.0,1443.2 1747.9,1506.3 1751.0,1513.4 1757.1,1509.3 1762.2,1511.4 1763.2,1531.8 1765.3,1562.4 1766.3,1584.8 1771.4,1585.8 1778.5,1583.8 1780.6,1593.0 1782.6,1613.3 1784.1,1629.7 1787.5,1632.8 1800.8,1635.4 1811.0,1637.9 1821.2,1639.0 1828.8,1635.9 1833.9,1635.9 1836.5,1641.0 1839.6,1646.1"/>
<polyline stroke="#0070C0" points="223.6,1578.6 230.0,1578.6 238.0,1576.5 246.0,1578.1 251.3,1576.5 259.3,1575.4 270.0,1572.2 275.3,1565.8 280.6,1562.6 291.3,1556.2 302.0,1552.5 312.6,1549.3 322.0,1545.6 323.0,1535.9 328.6,1533.7 334.2,1531.4 339.8,1529.2 345.4,1524.7 356.6,1519.1 367.8,1514.6 373.4,1512.4 375.7,1497.8 377.9,1469.7 380.2,1468.6 383.5,1477.6 388.0,1478.7 392.5,1478.7 394.8,1436.1 397.0,1401.3 401.5,1406.9 407.1,1409.2 414.9,1410.3 421.7,1410.3 427.3,1411.4 429.5,1413.7 432.0,1424.9 432.8,1439.1 435.1,1450.3 440.7,1452.5 449.6,1454.8 458.6,1457.0 469.8,1458.1 481.0,1459.3 492.2,1460.4 498.9,1459.3 502.2,1450.3 504.5,1433.5 510.1,1432.9 515.7,1433.5 517.9,1416.7 520.1,1383.1 522.4,1370.8 528.0,1370.8 533.6,1371.4 535.8,1360.7 538.1,1338.4 540.3,1327.2 545.9,1326.0 554.9,1324.9 562.7,1327.2 568.3,1333.9 576.1,1337.2 586.2,1338.4 591.8,1342.8 595.1,1349.6 599.6,1359.6 609.7,1361.9 620.9,1364.1 629.9,1366.3 635.0,1367.5 635.6,1368.5 641.2,1370.2 652.4,1372.5 659.1,1373.6 663.6,1384.8 674.8,1391.5 686.0,1398.2 697.2,1402.7 702.8,1407.2 708.4,1416.1 719.6,1418.4 730.7,1420.6 736.3,1424.0 741.9,1420.6 747.5,1417.2 755.4,1416.1 762.1,1411.6 769.9,1407.2 781.1,1406.0 792.3,1402.7 804.6,1396.0 809.1,1388.1 818.1,1385.9 827.0,1384.8 836.0,1382.5 840.0,1381.4 844.0,1373.0 847.3,1357.3 851.8,1349.5 863.0,1349.5 874.2,1349.5 879.8,1349.5 882.0,1359.6 884.3,1362.9 891.0,1365.1 897.7,1367.4 902.2,1370.7 913.4,1371.9 924.6,1374.1 931.3,1375.2 934.6,1366.3 938.0,1359.6 942.5,1355.1 946.9,1358.4 951.4,1359.6 953.7,1342.8 958.1,1337.2 963.7,1339.4 968.2,1337.2 970.4,1320.4 973.8,1312.5 980.5,1312.5 987.2,1314.8 994.0,1318.1 1000.7,1322.6 1005.1,1329.3 1007.4,1339.4 1009.6,1359.6 1011.9,1376.3 1016.3,1379.7 1025.3,1384.2 1036.5,1388.7 1045.0,1396.5 1051.2,1394.7 1055.7,1394.7 1059.0,1404.8 1062.4,1420.4 1069.1,1420.4 1073.6,1419.3 1075.8,1427.2 1078.6,1460.7 1080.3,1477.5 1087.0,1479.8 1096.0,1483.1 1107.2,1488.7 1113.9,1494.3 1118.4,1497.7 1129.6,1498.8 1140.7,1499.9 1149.7,1498.8 1158.7,1492.1 1165.4,1485.4 1174.3,1483.1 1185.5,1480.9 1196.7,1476.4 1207.9,1473.1 1219.1,1473.1 1230.3,1475.3 1241.5,1477.5 1250.0,1478.7 1258.4,1484.8 1267.4,1487.0 1278.6,1487.0 1289.8,1488.1 1301.0,1490.4 1312.2,1489.3 1323.4,1487.0 1334.6,1482.5 1345.7,1480.3 1356.9,1478.1 1362.5,1481.4 1368.1,1490.4 1374.9,1498.2 1383.8,1498.2 1390.5,1500.4 1395.0,1507.2 1399.5,1516.1 1404.0,1529.6 1408.4,1528.4 1415.1,1528.4 1417.4,1528.4 1419.6,1551.9 1421.9,1574.3 1424.1,1577.7 1433.1,1577.7 1437.5,1585.5 1439.8,1596.7 1446.5,1599.0 1455.0,1600.1 1463.4,1600.1 1472.4,1605.7 1483.6,1603.4 1494.8,1601.2 1506.0,1599.0 1517.2,1594.5 1528.4,1591.1 1539.6,1587.8 1546.3,1585.5 1547.4,1563.1 1548.5,1556.4 1557.5,1555.3 1561.9,1553.1 1564.2,1540.7 1566.4,1525.1 1570.9,1516.1 1578.7,1509.4 1582.1,1501.6 1584.3,1490.4 1591.0,1490.4 1597.8,1488.1 1606.7,1484.8 1613.4,1483.7 1617.5,1480.0 1619.6,1427.9 1623.7,1427.9 1635.9,1427.9 1637.9,1412.6 1640.0,1392.2 1645.1,1392.2 1651.2,1391.2 1661.4,1391.2 1663.4,1382.0 1665.5,1371.8 1667.5,1361.6 1670.6,1351.4 1672.6,1341.2 1673.2,1176.0 1674.2,1136.3 1676.9,1120.4 1682.2,1107.1 1690.1,1099.2 1695.4,1095.2 1703.4,1093.9 1708.7,1096.5 1711.3,1104.5 1716.6,1104.5 1722.0,1101.8 1725.4,1104.5 1725.9,1149.5 1726.6,1202.6 1728.6,1295.3 1728.7,1361.6 1730.7,1376.9 1738.9,1376.9 1741.9,1371.8 1743.0,1382.0 1745.0,1412.6 1747.0,1453.4 1748.4,1506.3 1751.0,1514.4 1757.1,1510.4 1762.2,1512.4 1763.2,1531.8 1765.3,1562.4 1766.8,1579.7 1771.4,1580.7 1778.5,1581.7 1780.6,1593.0 1782.6,1613.3 1784.1,1626.6 1790.6,1631.8 1805.9,1643.0 1816.1,1643.0 1831.4,1640.0 1835.5,1641.0 1839.6,1651.2"/>
<polyline stroke="#00B050" points="223.6,1568.0 232.7,1568.0 243.3,1568.0 254.0,1565.8 264.6,1562.6 275.3,1558.9 286.0,1556.2 296.6,1553.0 307.3,1548.8 315.8,1541.3 317.9,1528.0 322.0,1525.3 323.0,1524.7 334.2,1522.5 339.8,1518.0 345.4,1514.6 356.6,1513.5 362.2,1509.0 367.8,1507.9 373.4,1505.6 376.8,1492.2 379.1,1481.0 384.7,1481.0 390.3,1481.0 393.6,1481.0 395.3,1458.5 397.0,1429.4 401.5,1428.2 412.7,1428.2 419.4,1430.5 426.2,1431.6 430.7,1432.7 432.0,1436.1 432.8,1450.3 436.2,1457.0 447.4,1459.3 458.6,1460.4 464.2,1466.0 475.4,1467.1 486.6,1467.1 497.8,1467.1 503.4,1464.9 505.6,1444.7 510.1,1444.7 516.8,1443.6 520.1,1427.9 522.4,1383.1 528.0,1382.0 536.9,1382.0 539.2,1360.7 541.4,1336.1 548.1,1336.1 559.3,1339.5 570.5,1342.8 581.7,1346.2 590.7,1351.8 595.1,1355.1 604.1,1357.4 615.3,1359.6 626.5,1361.9 635.0,1365.2 635.6,1365.2 641.2,1365.7 652.4,1365.7 659.1,1372.5 663.6,1380.3 674.8,1383.7 683.7,1385.9 688.2,1393.7 692.7,1402.7 699.4,1404.9 706.1,1408.3 719.6,1409.4 730.7,1410.5 737.5,1409.4 741.9,1407.2 750.9,1403.8 759.9,1400.4 769.9,1398.2 781.1,1394.9 792.3,1393.7 803.5,1391.5 814.7,1388.1 825.9,1382.5 836.0,1378.1 840.0,1370.2 846.2,1359.6 852.9,1356.2 863.0,1354.0 874.2,1352.8 879.8,1352.8 880.9,1368.5 885.4,1369.6 893.2,1369.6 899.9,1368.5 907.8,1369.6 919.0,1369.6 931.3,1369.6 935.7,1365.1 940.2,1362.9 944.7,1364.0 951.4,1359.6 953.7,1348.4 958.1,1346.1 963.7,1343.9 969.3,1337.2 973.8,1332.7 980.5,1332.7 991.7,1333.8 998.4,1339.4 1002.9,1350.6 1006.3,1365.1 1009.6,1377.5 1016.3,1381.9 1025.3,1383.1 1036.5,1385.3 1045.0,1386.4 1051.2,1385.7 1057.9,1386.9 1060.1,1399.2 1066.9,1401.4 1075.8,1401.4 1076.9,1427.2 1078.6,1455.1 1080.3,1480.9 1087.0,1483.1 1096.0,1484.3 1107.2,1483.1 1111.6,1486.5 1118.4,1488.7 1129.6,1489.9 1140.7,1492.1 1151.9,1492.1 1163.1,1491.0 1174.3,1487.6 1185.5,1484.3 1196.7,1478.7 1207.9,1476.4 1219.1,1477.5 1230.3,1477.5 1241.5,1476.4 1250.0,1475.3 1260.7,1476.9 1267.4,1482.5 1278.6,1482.5 1289.8,1482.5 1301.0,1485.9 1312.2,1487.0 1323.4,1487.0 1334.6,1484.8 1345.7,1482.5 1356.9,1484.8 1363.7,1496.0 1368.1,1504.9 1374.9,1507.2 1383.8,1511.6 1390.5,1512.8 1401.7,1516.1 1412.9,1518.4 1417.4,1521.7 1419.6,1540.7 1420.7,1563.1 1423.0,1574.3 1429.7,1574.3 1435.3,1576.6 1439.8,1591.1 1446.5,1596.7 1455.0,1596.7 1463.4,1596.7 1472.4,1599.0 1483.6,1596.7 1494.8,1594.5 1506.0,1592.2 1517.2,1585.5 1523.9,1575.4 1534.0,1575.4 1541.8,1575.4 1545.1,1568.7 1548.5,1557.5 1557.5,1556.4 1561.9,1554.2 1564.2,1540.7 1566.4,1527.3 1575.4,1528.4 1581.0,1528.4 1584.3,1507.2 1591.0,1507.2 1597.8,1506.0 1606.7,1501.6 1613.4,1500.4 1616.5,1480.0 1618.6,1453.4 1619.6,1424.8 1623.7,1422.8 1633.9,1422.8 1636.9,1412.6 1638.9,1382.0 1640.0,1360.6 1643.0,1358.5 1659.3,1359.5 1663.4,1351.4 1667.5,1345.3 1671.6,1341.2 1672.9,1202.6 1673.6,1162.8 1674.2,1152.2 1679.5,1150.9 1686.2,1154.8 1690.1,1152.2 1692.8,1112.4 1695.4,1109.8 1706.0,1111.1 1719.3,1110.4 1725.4,1109.8 1725.9,1162.8 1727.3,1229.1 1728.6,1295.3 1728.7,1361.6 1730.7,1371.8 1738.9,1371.8 1741.9,1368.7 1743.0,1382.0 1744.5,1412.6 1746.5,1453.4 1748.1,1506.3 1751.0,1510.4 1757.1,1507.3 1762.2,1510.4 1763.2,1531.8 1765.3,1562.4 1766.3,1581.7 1771.4,1582.8 1778.5,1581.7 1780.6,1593.0 1782.6,1613.3 1783.6,1627.6 1795.7,1630.3 1800.8,1640.0 1811.0,1642.5 1821.2,1642.5 1831.4,1639.0 1835.0,1639.0 1838.5,1651.2"/>
<polyline stroke="#7030A0" points="223.6,1563.7 232.7,1566.9 243.3,1564.8 248.7,1561.6 259.3,1558.9 270.0,1555.2 280.6,1551.4 291.3,1546.7 302.0,1542.4 312.6,1536.5 322.0,1534.4 323.0,1532.6 334.2,1525.8 345.4,1521.3 356.6,1516.9 367.8,1512.4 373.4,1505.6 376.8,1492.2 379.1,1486.6 384.7,1485.4 390.3,1484.3 393.6,1483.2 395.3,1458.5 397.0,1430.5 401.5,1430.5 412.7,1432.7 419.4,1436.1 426.2,1438.3 429.5,1447.3 432.0,1464.1 436.2,1463.7 442.9,1464.9 453.0,1463.7 464.2,1462.6 475.4,1462.6 486.6,1462.6 497.8,1463.7 502.2,1461.5 504.5,1441.3 507.8,1438.0 514.6,1439.1 517.9,1438.0 520.1,1416.7 521.3,1383.1 523.5,1379.8 530.2,1379.8 536.9,1379.8 538.1,1360.7 539.2,1338.4 541.4,1331.6 548.1,1330.5 559.3,1331.6 570.5,1336.1 581.7,1338.4 587.3,1340.6 590.7,1349.6 595.1,1351.8 604.1,1352.9 615.3,1354.0 626.5,1356.3 635.0,1360.7 635.6,1360.1 641.2,1362.4 652.4,1368.0 659.1,1373.6 663.6,1384.8 672.5,1389.3 681.5,1391.5 688.2,1398.2 694.9,1402.7 701.6,1404.9 708.4,1411.6 719.6,1413.9 730.7,1413.9 737.5,1418.4 741.9,1412.8 748.7,1407.2 755.4,1403.8 764.3,1402.7 775.5,1400.4 786.7,1399.3 797.9,1397.1 809.1,1393.7 820.3,1389.3 831.5,1384.8 840.0,1382.5 844.0,1370.7 848.4,1365.1 857.4,1359.6 868.6,1356.2 877.5,1356.2 879.8,1359.6 882.0,1364.0 888.7,1366.3 897.7,1367.4 902.2,1370.7 913.4,1373.0 924.6,1374.1 931.3,1376.3 934.6,1368.5 938.0,1359.6 942.5,1355.1 946.9,1357.3 951.4,1368.5 953.7,1354.0 958.1,1339.4 962.6,1346.1 967.1,1347.2 970.4,1339.4 973.8,1328.2 980.5,1328.2 991.7,1329.3 998.4,1332.7 1002.9,1339.4 1006.3,1348.4 1008.5,1370.7 1010.7,1379.7 1016.3,1381.9 1025.3,1380.8 1036.5,1380.8 1045.0,1381.9 1051.2,1380.1 1059.0,1381.3 1061.3,1402.5 1066.9,1404.8 1075.8,1407.0 1076.9,1427.2 1078.6,1455.1 1080.3,1474.2 1087.0,1478.7 1096.0,1482.0 1107.2,1485.4 1116.1,1487.6 1120.6,1491.0 1129.6,1493.2 1140.7,1496.6 1147.5,1496.6 1151.9,1494.3 1163.1,1492.1 1174.3,1487.6 1185.5,1482.0 1196.7,1477.5 1207.9,1474.2 1219.1,1474.2 1230.3,1475.3 1241.5,1477.5 1250.0,1480.9 1258.4,1483.7 1267.4,1482.5 1278.6,1482.5 1289.8,1484.8 1301.0,1487.0 1312.2,1489.3 1323.4,1491.5 1334.6,1490.4 1345.7,1487.0 1356.9,1489.3 1362.5,1493.7 1368.1,1497.1 1374.9,1498.2 1381.6,1500.4 1384.9,1504.9 1387.2,1513.9 1392.8,1517.2 1401.7,1517.2 1412.9,1517.2 1417.4,1517.2 1419.6,1529.6 1420.7,1551.9 1421.9,1568.7 1426.3,1571.0 1433.1,1568.7 1435.3,1574.3 1437.5,1585.5 1440.9,1594.5 1446.5,1594.5 1455.0,1594.5 1463.4,1592.2 1472.4,1594.5 1483.6,1591.1 1494.8,1588.9 1506.0,1587.8 1517.2,1585.5 1528.4,1582.2 1539.6,1582.2 1545.1,1579.9 1547.4,1565.4 1550.7,1560.9 1557.5,1559.8 1561.9,1557.5 1564.2,1540.7 1566.4,1529.6 1570.9,1532.9 1577.6,1532.9 1582.1,1529.6 1584.3,1512.8 1586.6,1506.0 1595.5,1504.9 1606.7,1504.9 1615.7,1503.8 1617.5,1453.4 1619.6,1422.8 1622.6,1421.7 1633.9,1421.7 1636.9,1412.6 1638.9,1382.0 1640.0,1361.6 1643.0,1359.5 1659.3,1359.5 1663.4,1351.4 1667.5,1345.3 1671.6,1341.2 1672.6,1202.6 1673.6,1162.8 1674.2,1149.5 1679.5,1148.2 1686.2,1152.2 1690.1,1149.5 1692.8,1109.8 1695.4,1108.4 1706.0,1111.1 1719.3,1111.1 1724.6,1112.4 1725.9,1162.8 1727.3,1229.1 1728.6,1295.3 1728.7,1361.6 1730.7,1369.7 1736.8,1368.7 1741.9,1369.7 1743.0,1382.0 1744.0,1412.6 1746.0,1453.4 1747.9,1506.3 1751.0,1513.4 1757.1,1508.3 1762.2,1511.4 1763.2,1531.8 1765.3,1562.4 1766.3,1579.7 1771.4,1581.7 1778.5,1582.8 1780.6,1593.0 1782.6,1613.3 1783.6,1626.6 1790.6,1630.8 1800.8,1634.9 1811.0,1637.4 1821.2,1639.5 1831.4,1641.5 1833.4,1646.1 1836.5,1653.7 1839.6,1659.4"/>
</g>
<rect x="226" y="1072" width="1611" height="780.5" fill="none" stroke="#000" stroke-width="3.5"/>
<text transform="translate(217.7,1091.5) scale(0.94,1)" font-size="49.5" text-anchor="end">16,000</text>
<line x1="226" y1="1176" x2="247.5" y2="1176" stroke="#000" stroke-width="3.6"/>
<text transform="translate(217.7,1189.3) scale(0.94,1)" font-size="49.5" text-anchor="end">14,000</text>
<line x1="226" y1="1273.5" x2="247.5" y2="1273.5" stroke="#000" stroke-width="3.6"/>
<text transform="translate(217.7,1286.5) scale(0.94,1)" font-size="49.5" text-anchor="end">12,000</text>
<line x1="226" y1="1370" x2="247.5" y2="1370" stroke="#000" stroke-width="3.6"/>
<text transform="translate(217.7,1385) scale(0.94,1)" font-size="49.5" text-anchor="end">10,000</text>
<line x1="226" y1="1468.6" x2="247.5" y2="1468.6" stroke="#000" stroke-width="3.6"/>
<text transform="translate(217.7,1483.1) scale(0.94,1)" font-size="49.5" text-anchor="end">8,000</text>
<line x1="226" y1="1566" x2="247.5" y2="1566" stroke="#000" stroke-width="3.6"/>
<text transform="translate(217.7,1580.5) scale(0.94,1)" font-size="49.5" text-anchor="end">6,000</text>
<line x1="226" y1="1664.8" x2="247.5" y2="1664.8" stroke="#000" stroke-width="3.6"/>
<text transform="translate(217.7,1679.1) scale(0.94,1)" font-size="49.5" text-anchor="end">4,000</text>
<line x1="226" y1="1762" x2="247.5" y2="1762" stroke="#000" stroke-width="3.6"/>
<text transform="translate(217.7,1777.2) scale(0.94,1)" font-size="49.5" text-anchor="end">2,000</text>
<text transform="translate(217.7,1875.5) scale(0.94,1)" font-size="49.5" text-anchor="end">0</text>
<text transform="translate(215.4,1920) scale(0.9,1)" font-size="48" letter-spacing="1.7">4/1</text>
<line x1="377.2" y1="1852.5" x2="377.2" y2="1831.5" stroke="#000" stroke-width="3.6"/>
<text transform="translate(366.4,1920) scale(0.9,1)" font-size="48" letter-spacing="1.7">4/9</text>
<line x1="528.6" y1="1852.5" x2="528.6" y2="1831.5" stroke="#000" stroke-width="3.6"/>
<text transform="translate(507.1,1920) scale(0.9,1)" font-size="48" letter-spacing="1.7">4/18</text>
<line x1="679.8" y1="1852.5" x2="679.8" y2="1831.5" stroke="#000" stroke-width="3.6"/>
<text transform="translate(658.9,1920) scale(0.9,1)" font-size="48" letter-spacing="1.7">4/26</text>
<line x1="831" y1="1852.5" x2="831" y2="1831.5" stroke="#000" stroke-width="3.6"/>
<text transform="translate(820.1,1920) scale(0.9,1)" font-size="48" letter-spacing="1.7">5/5</text>
<line x1="982" y1="1852.5" x2="982" y2="1831.5" stroke="#000" stroke-width="3.6"/>
<text transform="translate(961.6,1920) scale(0.9,1)" font-size="48" letter-spacing="1.7">5/13</text>
<line x1="1133.3" y1="1852.5" x2="1133.3" y2="1831.5" stroke="#000" stroke-width="3.6"/>
<text transform="translate(1112.5,1920) scale(0.9,1)" font-size="48" letter-spacing="1.7">5/21</text>
<line x1="1284.7" y1="1852.5" x2="1284.7" y2="1831.5" stroke="#000" stroke-width="3.6"/>
<text transform="translate(1264.8,1920) scale(0.9,1)" font-size="48" letter-spacing="1.7">5/30</text>
<line x1="1435.6" y1="1852.5" x2="1435.6" y2="1831.5" stroke="#000" stroke-width="3.6"/>
<text transform="translate(1425.6,1920) scale(0.9,1)" font-size="48" letter-spacing="1.7">6/7</text>
<line x1="1587.3" y1="1852.5" x2="1587.3" y2="1831.5" stroke="#000" stroke-width="3.6"/>
<text transform="translate(1567.6,1920) scale(0.9,1)" font-size="48" letter-spacing="1.7">6/16</text>
<line x1="1738" y1="1852.5" x2="1738" y2="1831.5" stroke="#000" stroke-width="3.6"/>
<text transform="translate(1718.4,1920) scale(0.9,1)" font-size="48" letter-spacing="1.7">6/24</text>
<text transform="translate(1831.1,1920) scale(0.9,1)" font-size="48" letter-spacing="1.7">6/30</text>
<g transform="translate(67,1456) rotate(-90)">
<text transform="translate(0.27,0)" font-size="46" letter-spacing="2.2">Flow</text>
<text transform="translate(119,-0.6) scale(1.13,1)" font-size="46">(</text>
<text transform="translate(133,-1.1) scale(1.09,1)" font-size="46">m</text>
<text transform="translate(173,-23.6)" font-size="32">3</text>
<text transform="translate(190.2,-1.5)" font-size="46">/</text>
<text transform="translate(204,-1.1)" font-size="46">s</text>
<text transform="translate(221.6,-0.9)" font-size="46">)</text>
</g>
<text x="856.6345703125" y="1983" font-size="47" letter-spacing="0.8">(c) Xiajiang</text>
<line x1="281" y1="1150.9" x2="417" y2="1150.9" stroke="#000000" stroke-width="5" stroke-linecap="round"/>
<text x="418.4" y="1167.6" font-size="47" letter-spacing="0.8">Program A</text>
<line x1="647" y1="1151.2" x2="781" y2="1151.2" stroke="#FF0000" stroke-width="5" stroke-linecap="round"/>
<text x="784.2" y="1166.4" font-size="47" letter-spacing="0.8">Program B</text>
<line x1="1045" y1="1151.8" x2="1183" y2="1151.8" stroke="#0070C0" stroke-width="5" stroke-linecap="round"/>
<text x="1186.6" y="1165.8" font-size="47" letter-spacing="0.8">Program C</text>
<line x1="281" y1="1241.1" x2="417" y2="1241.1" stroke="#00B050" stroke-width="5" stroke-linecap="round"/>
<text x="418.4" y="1252.2" font-size="47" letter-spacing="0.8">Program D</text>
<line x1="651" y1="1239.6" x2="785" y2="1239.6" stroke="#7030A0" stroke-width="5" stroke-linecap="round"/>
<text x="786.1" y="1252.2" font-size="47" letter-spacing="0.8">Program E</text>
</svg></body></html>
